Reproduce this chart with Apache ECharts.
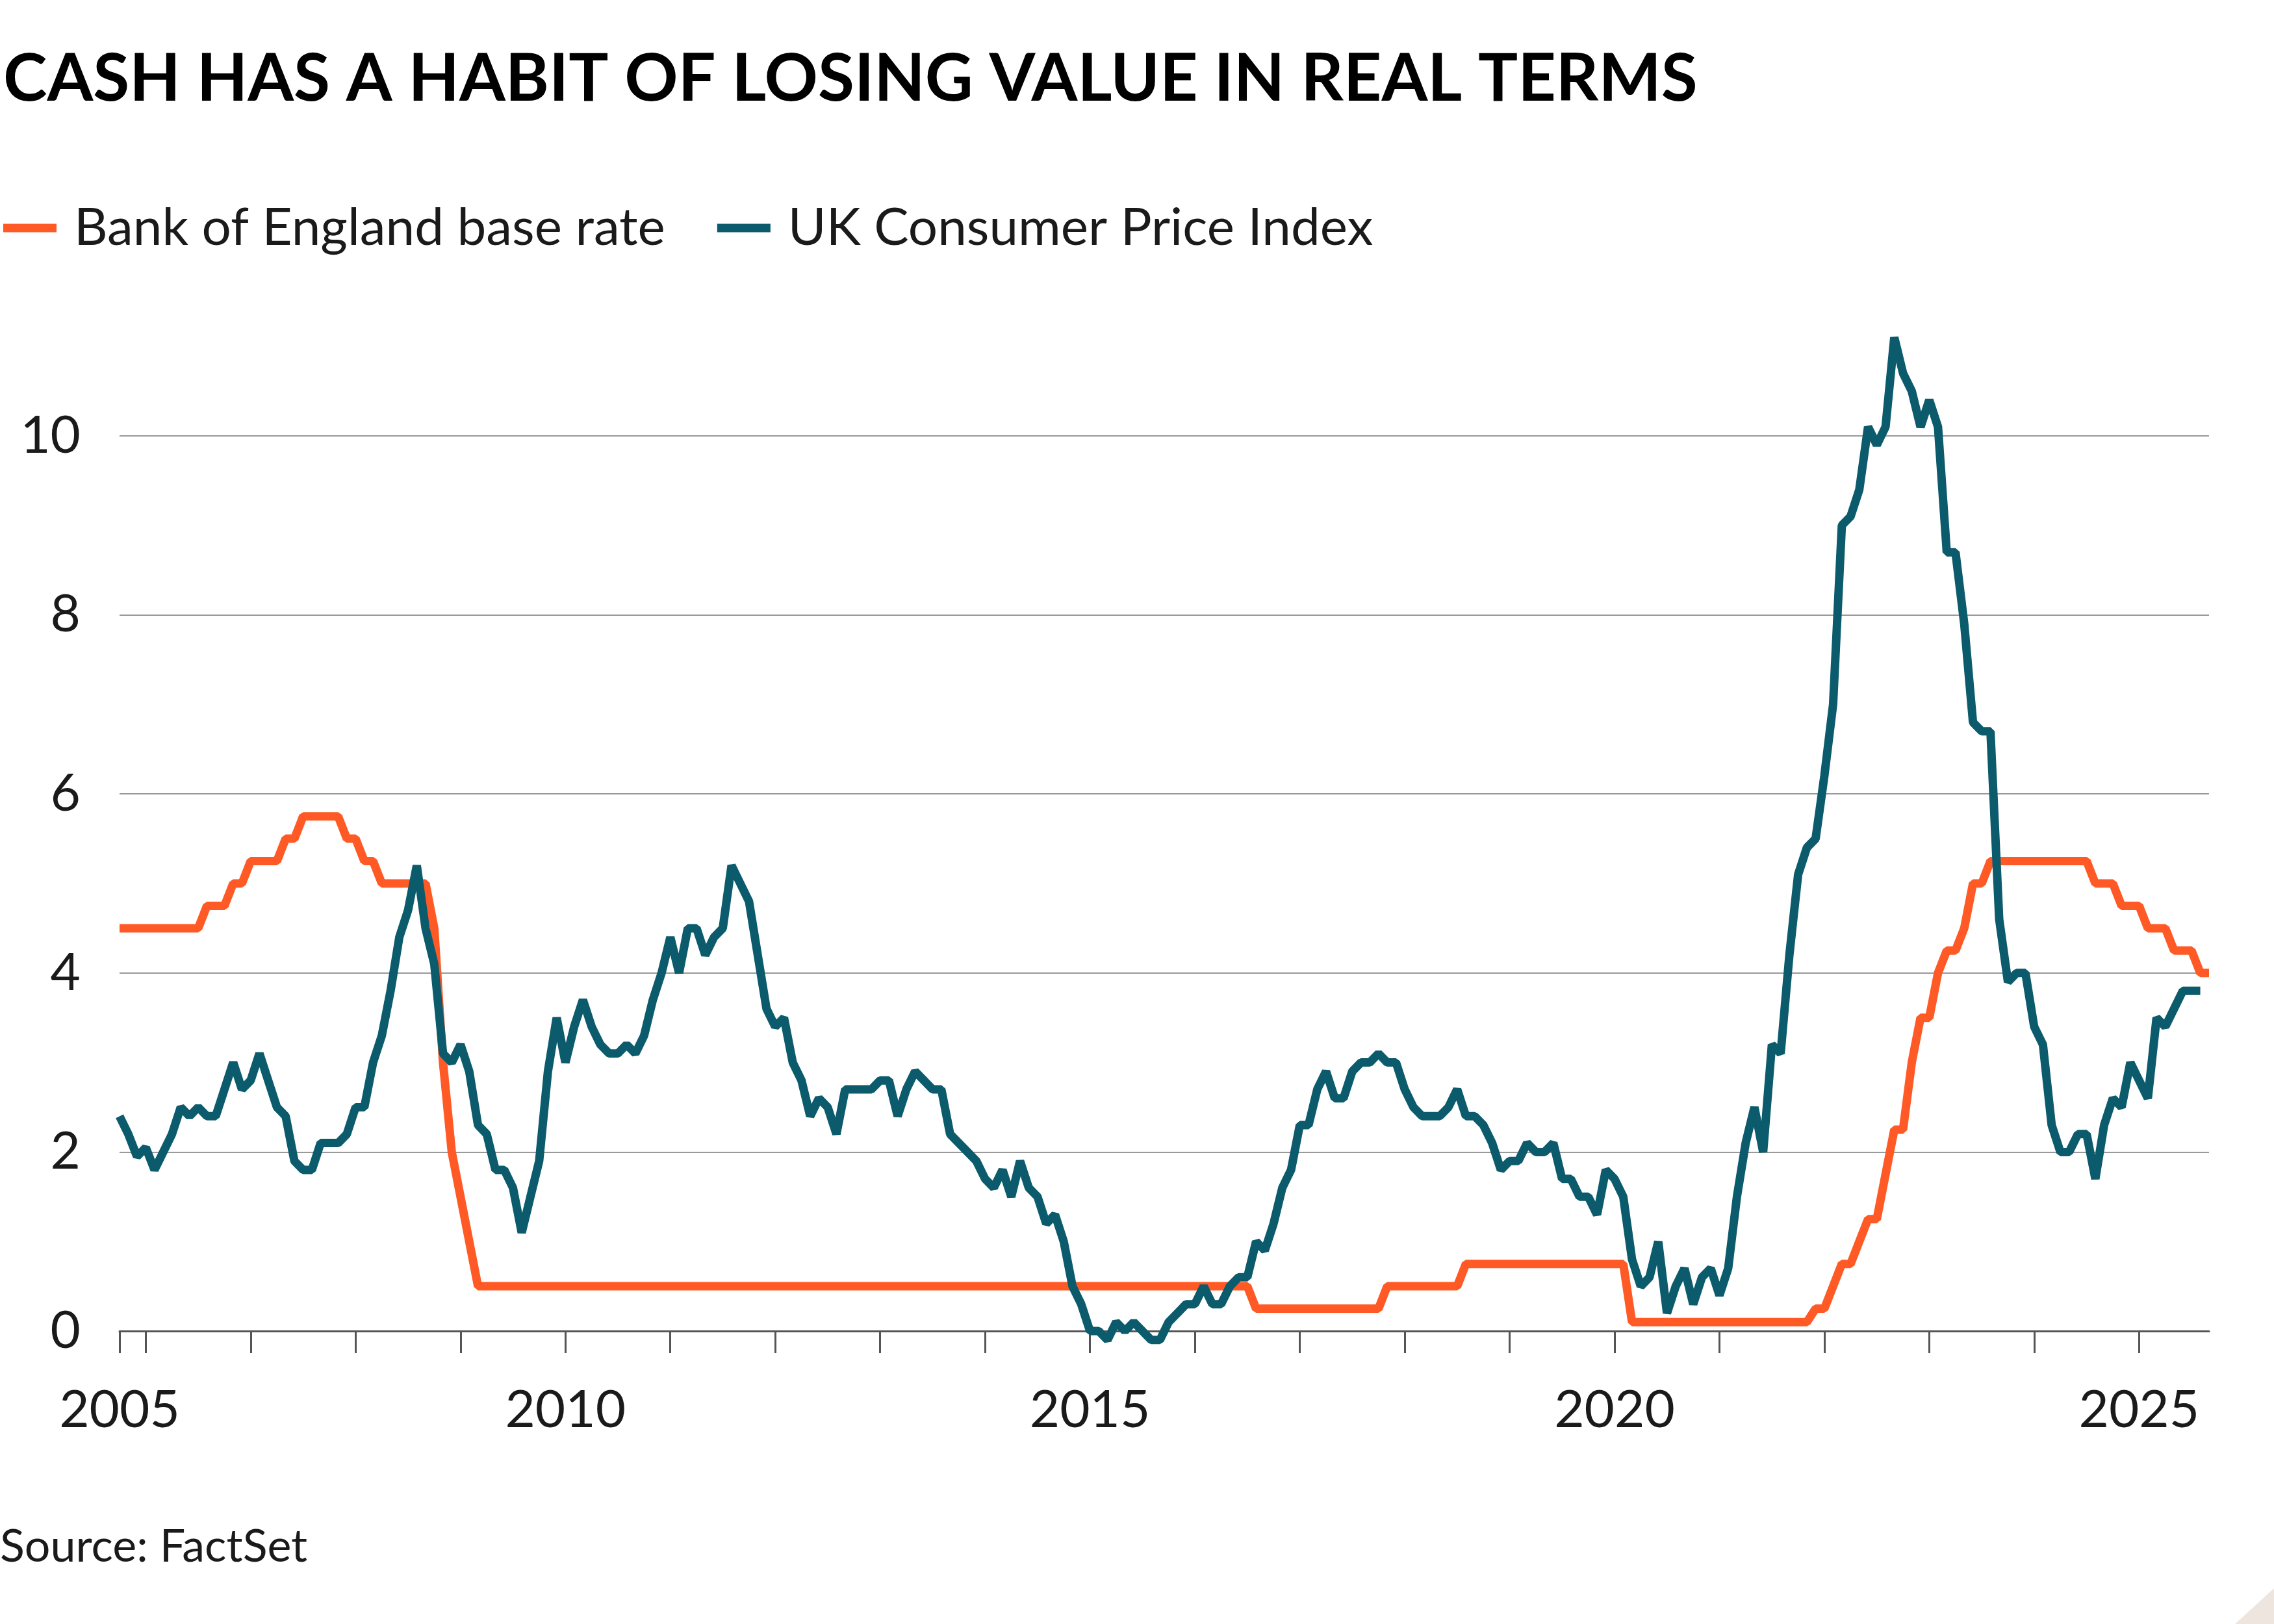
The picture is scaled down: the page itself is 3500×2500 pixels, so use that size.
<!DOCTYPE html>
<html><head><meta charset="utf-8">
<script src="https://cdn.jsdelivr.net/npm/echarts@6/dist/echarts.min.js"></script>
<style>html,body{margin:0;background:#fff}#c{width:3500px;height:2500px}</style>
</head><body><div id="c"></div>
<script>
// Monthly series from Oct 2005 to Oct 2025
const startYear = 2005, startMonth = 10;
const cpi = [
 2.4,2.2,1.95,
 2.05,1.8,2.0,2.2,2.5,2.4,2.5,2.4,2.4,2.7,3.0,2.7,
 2.8,3.1,2.8,2.5,2.4,1.9,1.8,1.8,2.1,2.1,2.1,2.2,
 2.5,2.5,3.0,3.3,3.8,4.4,4.7,5.2,4.5,4.1,3.1,3.0,
 3.2,2.9,2.3,2.2,1.8,1.8,1.6,1.1,1.5,1.9,2.9,3.5,
 3.0,3.4,3.7,3.4,3.2,3.1,3.1,3.2,3.1,3.3,3.7,4.0,
 4.4,4.0,4.5,4.5,4.2,4.4,4.5,5.2,5.0,4.8,4.2,3.6,
 3.4,3.5,3.0,2.8,2.4,2.6,2.5,2.2,2.7,2.7,2.7,2.7,
 2.8,2.8,2.4,2.7,2.9,2.8,2.7,2.7,2.2,2.1,2.0,1.9,
 1.7,1.6,1.8,1.5,1.9,1.6,1.5,1.2,1.3,1.0,0.5,0.3,
 0.0,0.0,-0.1,0.1,0.0,0.1,0.0,-0.1,-0.1,0.1,0.2,0.3,
 0.3,0.5,0.3,0.3,0.5,0.6,0.6,1.0,0.9,1.2,1.6,1.8,
 2.3,2.3,2.7,2.9,2.6,2.6,2.9,3.0,3.0,3.1,3.0,3.0,
 2.7,2.5,2.4,2.4,2.4,2.5,2.7,2.4,2.4,2.3,2.1,1.8,
 1.9,1.9,2.1,2.0,2.0,2.1,1.7,1.7,1.5,1.5,1.3,1.8,
 1.7,1.5,0.8,0.5,0.6,1.0,0.2,0.5,0.7,0.3,0.6,0.7,
 0.4,0.7,1.5,2.1,2.5,2.0,3.2,3.1,4.2,5.1,5.4,5.5,
 6.2,7.0,9.0,9.1,9.4,10.1,9.9,10.1,11.1,10.7,10.5,10.1,
 10.4,10.1,8.7,8.7,7.9,6.8,6.7,6.7,4.6,3.9,4.0,4.0,
 3.4,3.2,2.3,2.0,2.0,2.2,2.2,1.7,2.3,2.6,2.5,3.0,
 2.8,2.6,3.5,3.4,3.6,3.8,3.8,3.8,null
];
const baseRate = [
 4.5,4.5,4.5,
 4.5,4.5,4.5,4.5,4.5,4.5,4.5,4.75,4.75,4.75,5.0,5.0,
 5.25,5.25,5.25,5.25,5.5,5.5,5.75,5.75,5.75,5.75,5.75,5.5,
 5.5,5.25,5.25,5.0,5.0,5.0,5.0,5.0,5.0,4.5,3.0,2.0,
 1.5,1.0,0.5,0.5,0.5,0.5,0.5,0.5,0.5,0.5,0.5,0.5,
 0.5,0.5,0.5,0.5,0.5,0.5,0.5,0.5,0.5,0.5,0.5,0.5,
 0.5,0.5,0.5,0.5,0.5,0.5,0.5,0.5,0.5,0.5,0.5,0.5,
 0.5,0.5,0.5,0.5,0.5,0.5,0.5,0.5,0.5,0.5,0.5,0.5,
 0.5,0.5,0.5,0.5,0.5,0.5,0.5,0.5,0.5,0.5,0.5,0.5,
 0.5,0.5,0.5,0.5,0.5,0.5,0.5,0.5,0.5,0.5,0.5,0.5,
 0.5,0.5,0.5,0.5,0.5,0.5,0.5,0.5,0.5,0.5,0.5,0.5,
 0.5,0.5,0.5,0.5,0.5,0.5,0.5,0.25,0.25,0.25,0.25,0.25,
 0.25,0.25,0.25,0.25,0.25,0.25,0.25,0.25,0.25,0.25,0.5,0.5,
 0.5,0.5,0.5,0.5,0.5,0.5,0.5,0.75,0.75,0.75,0.75,0.75,
 0.75,0.75,0.75,0.75,0.75,0.75,0.75,0.75,0.75,0.75,0.75,0.75,
 0.75,0.75,0.1,0.1,0.1,0.1,0.1,0.1,0.1,0.1,0.1,0.1,
 0.1,0.1,0.1,0.1,0.1,0.1,0.1,0.1,0.1,0.1,0.1,0.25,
 0.25,0.5,0.75,0.75,1.0,1.25,1.25,1.75,2.25,2.25,3.0,3.5,
 3.5,4.0,4.25,4.25,4.5,5.0,5.0,5.25,5.25,5.25,5.25,5.25,
 5.25,5.25,5.25,5.25,5.25,5.25,5.25,5.0,5.0,5.0,4.75,4.75,
 4.75,4.5,4.5,4.5,4.25,4.25,4.25,4.0,4.0,null
];
const yTicks = [0, 2, 4, 6, 8, 10];
const xLabelYears = [2005, 2010, 2015, 2020, 2025];

const months = [];
for (let i = 0; i < cpi.length; i++) {
  const m0 = startMonth - 1 + i;
  const y = startYear + Math.floor(m0 / 12), m = m0 % 12 + 1;
  months.push(y + '-' + String(m).padStart(2, '0'));
}
const isTick = (i) => i === 0 || months[i].endsWith('-01');
const FONT = 'Lato, "Noto Sans", sans-serif';
const chart = echarts.init(document.getElementById('c'));
chart.setOption({
  backgroundColor: '#fff',
  animation: false,
  title: {
    text: 'CASH HAS A HABIT OF LOSING VALUE IN REAL TERMS',
    left: 0, top: 66,
    textStyle: { fontFamily: FONT, fontSize: 102, fontWeight: 'bold', color: '#000' }
  },
  legend: {
    left: 0, top: 306, itemWidth: 82, itemHeight: 13, itemGap: 80,
    icon: 'rect',
    textStyle: { fontFamily: FONT, fontSize: 80, color: '#1a1a1a', padding: [0, 0, 0, 22] },
    data: ['Bank of England base rate', 'UK Consumer Price Index']
  },
  graphic: [
    { type: 'text', left: 0, top: 2346, style: { text: 'Source: FactSet', font: '70px ' + FONT, fill: '#1a1a1a' } },
    { type: 'polygon', shape: { points: [[3500, 2445], [3500, 2500], [3440, 2500]] }, style: { fill: '#eee5df' } }
  ],
  grid: { left: 184, right: 100, top: 671, bottom: 451 },
  xAxis: {
    type: 'category', data: months, boundaryGap: false,
    axisLine: { show: true, onZero: false, lineStyle: { color: '#555', width: 3 } },
    axisTick: { show: true, interval: (i) => isTick(i), length: 34, lineStyle: { color: '#555', width: 3 } },
    axisLabel: {
      interval: (i) => i === 0 || xLabelYears.some(y => months[i] === y + '-01'),
      formatter: (v, i) => i === 0 ? '2005' : v.slice(0, 4),
      fontFamily: FONT, fontSize: 80, color: '#1a1a1a', margin: 82
    },
    splitLine: { show: false }
  },
  yAxis: {
    type: 'value', min: 0, max: 10, interval: 2,
    axisLine: { show: false }, axisTick: { show: false },
    axisLabel: { fontFamily: FONT, fontSize: 80, color: '#1a1a1a', margin: 60,
      formatter: (v) => yTicks.includes(v) ? String(v) : '' },
    splitLine: { lineStyle: { color: '#999', width: 2 } }
  },
  series: [
    { name: 'Bank of England base rate', type: 'line', data: baseRate, symbol: 'none', clip: false,
      color: '#ff5a26', lineStyle: { width: 13, color: '#ff5a26' }, z: 2 },
    { name: 'UK Consumer Price Index', type: 'line', data: cpi, symbol: 'none', clip: false,
      color: '#0c5b6c', lineStyle: { width: 13, color: '#0c5b6c' }, z: 3 }
  ]
});
</script></body></html>
